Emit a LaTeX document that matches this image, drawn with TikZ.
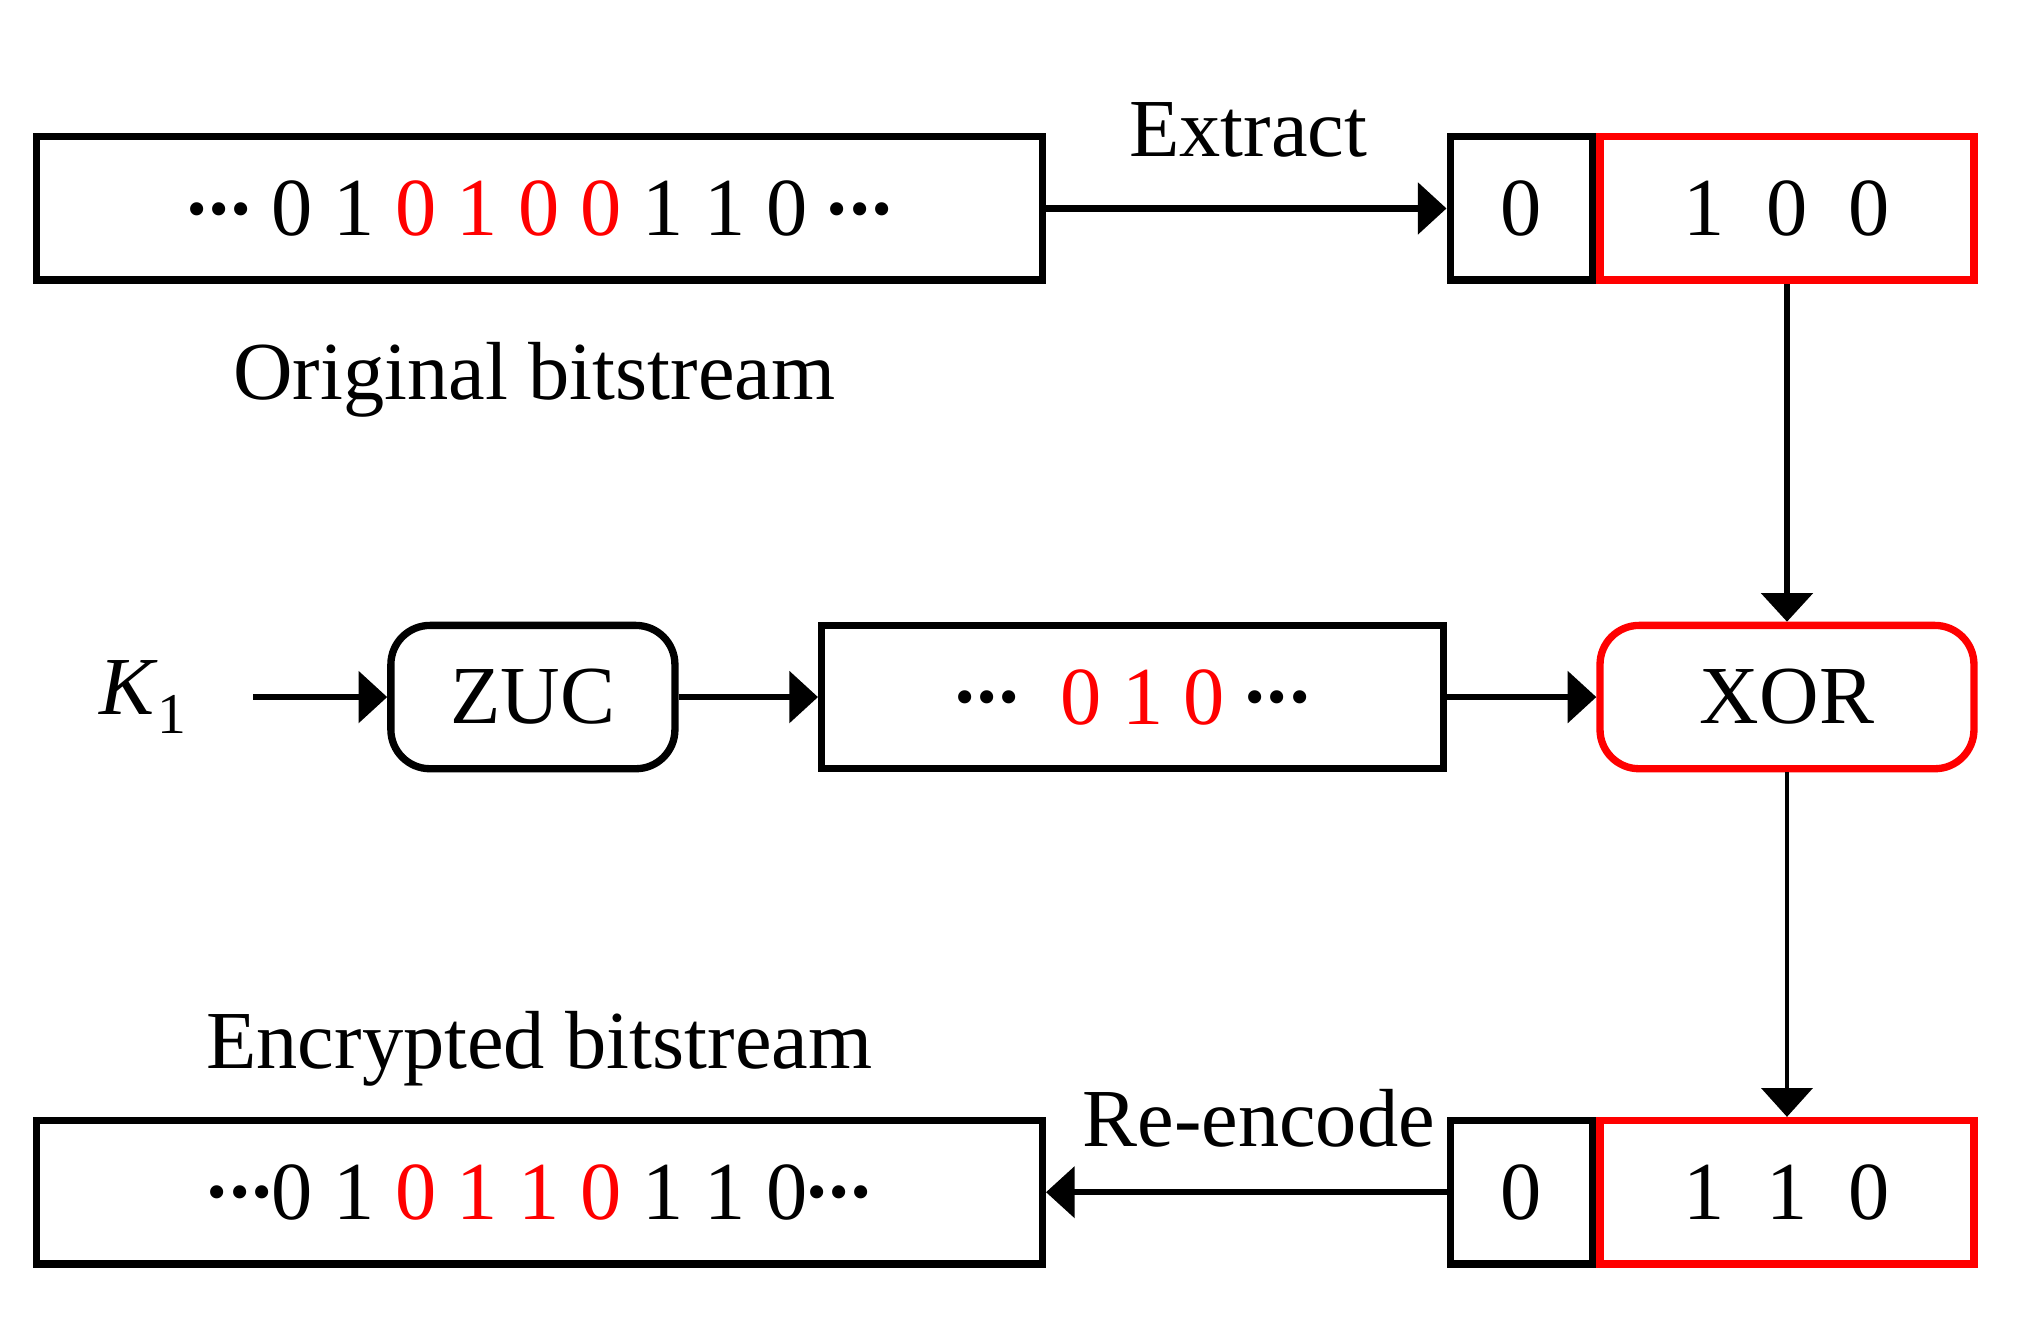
\documentclass[tikz,border=0pt]{standalone}
\usepackage{fontspec}
\setmainfont{Liberation Serif}
\usetikzlibrary{positioning,arrows.meta}

\tikzset{
  bitbox/.style = {draw, line width=3.2pt, minimum height=2.2cm, inner sep=0pt},
  redbox/.style = {bitbox, draw=red},
  keybox/.style = {bitbox, rounded corners=0.6cm},
  flow/.style = {line width=2.8pt, -{Triangle[length=0.44cm,width=0.78cm]}},
  tag/.style = {anchor=base, inner sep=0pt},
}
\newcommand{\rd}[1]{\textcolor{red}{#1}}
\newcommand{\mdots}{\raisebox{3.6pt}{\fontsize{24}{24}\selectfont •\kern1.3pt•\kern1.3pt•}}

\begin{document}
\begin{tikzpicture}[font=\fontsize{36}{40}\selectfont]
\useasboundingbox (0,0) rectangle (31.36,-20.42);
% top row
\node[bitbox, minimum width=15.44cm] (orig) at (8.28,-3.2) {\mdots\ 0 1 \rd{0 1 0 0} 1 1 0 \mdots};
\node[bitbox, minimum width=2.18cm] (hd1) at (23.35,-3.2) {0};
\node[redbox, minimum width=5.74cm] (sel1) at (27.43,-3.2) {1\enspace 0\enspace 0};
\node[tag] (extract) at (19.16,-2.4) {Extract};
\node[tag] (origlbl) at (8.2,-6.14) {Original bitstream};
% middle row
\node[inner sep=0pt] (k1) at (2.2,-10.7) {\textit{K}\textsubscript{1}};
\node[keybox, minimum width=4.36cm] (zuc) at (8.18,-10.7) {ZUC};
\node[bitbox, minimum width=9.54cm, right=2.14cm of zuc] (ks) {\mdots\ \ \rd{0 1 0} \mdots};
\node[keybox, draw=red, minimum width=5.74cm] (xor) at (27.43,-10.7) {XOR};
% bottom row
\node[bitbox, minimum width=15.44cm] (enc) at (8.28,-18.3) {\mdots 0 1 \rd{0 1 1 0} 1 1 0\mdots};
\node[bitbox, minimum width=2.18cm] (hd2) at (23.35,-18.3) {0};
\node[redbox, minimum width=5.74cm] (sel2) at (27.43,-18.3) {1\enspace 1\enspace 0};
\node[tag] (enclbl) at (8.28,-16.4) {Encrypted bitstream};
\node[tag] (reenc) at (19.32,-17.6) {Re-encode};

\draw[flow] (orig) -- (hd1);
\draw[flow] (sel1) -- (xor);
\draw[flow, shorten <=1cm] (k1) -- (zuc);
\draw[flow] (zuc) -- (ks);
\draw[flow] (ks) -- (xor);
\draw[flow, line width=1.6pt] (xor) -- (sel2);
\draw[flow, line width=2.4pt] (hd2) -- (enc);
\end{tikzpicture}
\end{document}
